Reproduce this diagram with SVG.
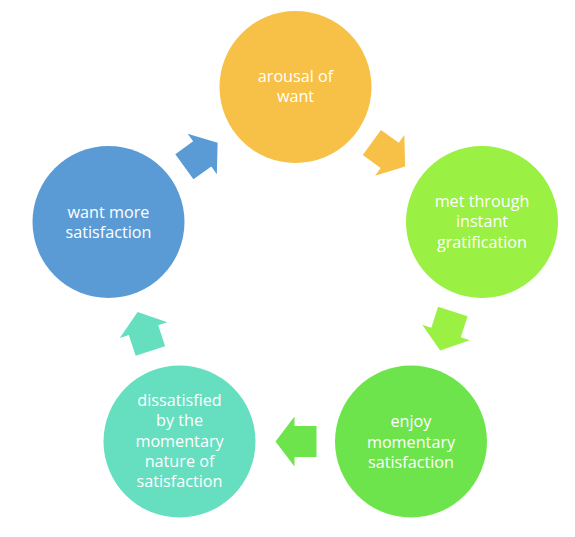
<svg xmlns="http://www.w3.org/2000/svg" width="575" height="537" viewBox="0 0 575 537">
<defs>
<style>
.lbl{font-family:"Open Sans","Liberation Sans",Arial,sans-serif;font-size:16.2px;fill:#ffffff;text-anchor:middle}
</style>
<path id="arr" d="M-20.5,-15.5 H1.5 V-25 L20.5,0 L1.5,25 V15.5 H-20.5 Z"/>
</defs>
<rect width="575" height="537" fill="#ffffff"/>
<g id="connectors">
<use href="#arr" fill="#F7C046" transform="translate(388.5,154.5) rotate(35.8)"/>
<use href="#arr" fill="#9AF043" transform="translate(446.5,331) rotate(108)"/>
<use href="#arr" fill="#6EE44C" transform="translate(296,441.5) rotate(180)"/>
<use href="#arr" fill="#66DEC0" transform="translate(144,331.5) rotate(-108.2)"/>
<use href="#arr" fill="#5B9BD5" transform="translate(201,154.8) rotate(-35.8)"/>
</g>
<g id="n1">
<circle cx="295.5" cy="87" r="76" fill="#F7C046"/>
<text class="lbl" x="295.5"><tspan x="295.5" y="82">arousal of</tspan><tspan x="295.5" y="102">want</tspan></text>
</g>
<g id="n2">
<circle cx="482" cy="222" r="76" fill="#9AF043"/>
<text class="lbl"><tspan x="482" y="207">met through</tspan><tspan x="482" y="227.3">instant</tspan><tspan x="482" y="247.6">gratification</tspan></text>
</g>
<g id="n3">
<circle cx="411" cy="441.5" r="76" fill="#6EE44C"/>
<text class="lbl"><tspan x="411" y="427">enjoy</tspan><tspan x="411" y="447.5">momentary</tspan><tspan x="411" y="467.5">satisfaction</tspan></text>
</g>
<g id="n4">
<circle cx="179.5" cy="441.5" r="76" fill="#66DEC0"/>
<text class="lbl"><tspan x="179.5" y="406">dissatisfied</tspan><tspan x="179.5" y="426.3">by the</tspan><tspan x="179.5" y="446.5">momentary</tspan><tspan x="179.5" y="466.8">nature of</tspan><tspan x="179.5" y="487">satisfaction</tspan></text>
</g>
<g id="n5">
<circle cx="108.5" cy="222" r="76" fill="#5B9BD5"/>
<text class="lbl"><tspan x="108.5" y="218">want more</tspan><tspan x="108.5" y="238">satisfaction</tspan></text>
</g>
</svg>
